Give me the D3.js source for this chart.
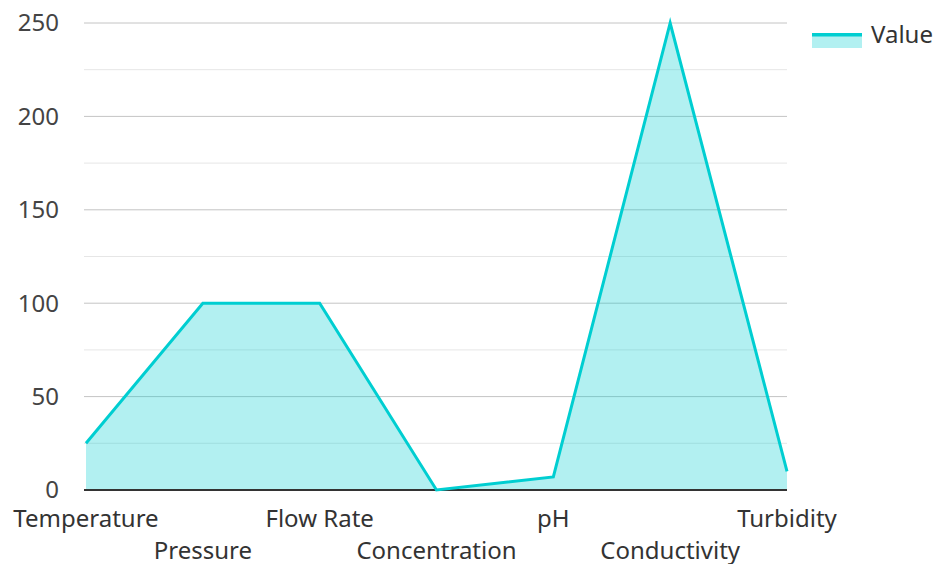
<!DOCTYPE html>
<html><head><meta charset="utf-8">
<script src="https://cdn.jsdelivr.net/npm/d3@7"></script>
<style>body{margin:0;background:#fff}svg{display:block;font-family:"Noto Sans","Open Sans",sans-serif}</style>
</head><body><svg id="c" width="936" height="564"></svg>
<script>
const categories = ["Temperature","Pressure","Flow Rate","Concentration","pH","Conductivity","Turbidity"];
const values = [25,100,100,0,7,250,10];
const yTicks = [0,50,100,150,200,250];
const yMinorTicks = [25,75,125,175,225];
const seriesName = "Value";

(function(){
const svg = d3.select("#c");
const mLeft = 86, mRight = 787, mTop = 23, mBottom = 490;
const x = d3.scalePoint().domain(categories).range([mLeft, mRight]);
const y = d3.scaleLinear().domain([0,250]).range([mBottom, mTop]);
const color = "#00CED1";

svg.append("g").selectAll("line").data(yMinorTicks).join("line")
  .attr("x1", mLeft - 2).attr("x2", mRight).attr("y1", d=>y(d)).attr("y2", d=>y(d))
  .attr("stroke", "#e6e6e6").attr("stroke-width", 1);
svg.append("g").selectAll("line").data(yTicks.filter(d=>d>0)).join("line")
  .attr("x1", mLeft - 2).attr("x2", mRight).attr("y1", d=>y(d)).attr("y2", d=>y(d))
  .attr("stroke", "#c4c4c4").attr("stroke-width", 1);

const pts = categories.map((c,i)=>({c, v: values[i]}));
svg.append("path").datum(pts)
  .attr("d", d3.area().x(d=>x(d.c)).y0(y(0)).y1(d=>y(d.v)))
  .attr("fill", color).attr("fill-opacity", 0.3);

svg.append("line").attr("x1", mLeft - 2).attr("x2", mRight).attr("y1", y(0)).attr("y2", y(0))
  .attr("stroke", "#333").attr("stroke-width", 2);

svg.append("path").datum(pts)
  .attr("d", d3.line().x(d=>x(d.c)).y(d=>y(d.v)))
  .attr("fill", "none").attr("stroke", color).attr("stroke-width", 3);

svg.append("g").selectAll("text").data(yTicks).join("text")
  .attr("x", 59).attr("y", d=>y(d)).attr("dy", "0.35em")
  .attr("text-anchor", "end").attr("font-size", 24).attr("fill", "#444")
  .text(d=>d);

svg.append("g").selectAll("text").data(categories).join("text")
  .attr("x", d=>x(d)).attr("y", (d,i)=> i%2===0 ? 527 : 559)
  .attr("text-anchor", "middle").attr("font-size", 24).attr("fill", "#333")
  .text(d=>d);

const lg = svg.append("g");
lg.append("rect").attr("x", 812).attr("y", 33).attr("width", 50).attr("height", 15)
  .attr("fill", color).attr("fill-opacity", 0.3);
lg.append("rect").attr("x", 812).attr("y", 33).attr("width", 50).attr("height", 3.5)
  .attr("fill", color);
lg.append("text").attr("x", 871).attr("y", 35).attr("dy", "0.35em")
  .attr("font-size", 24).attr("fill", "#333").text(seriesName);
})();
</script></body></html>
